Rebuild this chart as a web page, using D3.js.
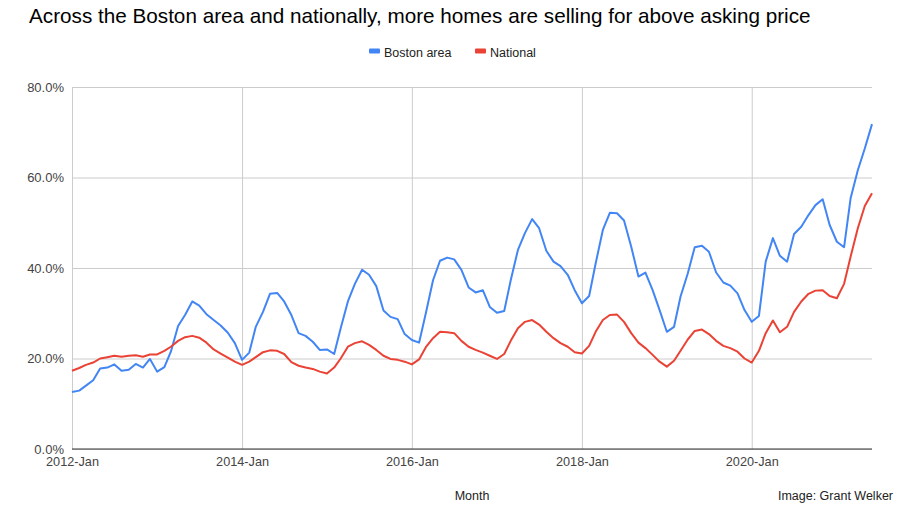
<!DOCTYPE html>
<html>
<head>
<meta charset="utf-8">
<script src="https://cdn.jsdelivr.net/npm/d3@7"></script>
<style>
  body { margin: 0; background: #fff; }
  svg { font-family: "Liberation Sans", Arial, sans-serif; }
</style>
</head>
<body>
<div id="chart"></div>
<script>
/* CONSTANTS AND GLOBALS */
const width = 900,
  height = 506,
  margin = { top: 87, bottom: 57, left: 72, right: 28 };

// monthly series, 2012-Jan .. 2021-Jun (percent of homes sold above asking)
const startMonth = new Date(2012, 0, 1);
const boston = [
  12.6, 12.9, 14.0, 15.2, 17.8, 18.0, 18.7, 17.3, 17.5, 18.8, 18.0, 19.9, 17.1, 18.1,
  21.5, 27.2, 29.6, 32.6, 31.7, 29.8, 28.5, 27.3, 25.7, 23.4, 19.7, 21.3, 27.0, 30.3,
  34.3, 34.5, 32.6, 29.6, 25.6, 25.0, 23.7, 21.9, 22.0, 21.0, 26.7, 32.6, 36.5, 39.6,
  38.5, 36.0, 30.6, 29.2, 28.7, 25.4, 24.1, 23.5, 30.0, 37.3, 41.6, 42.3, 41.9, 39.6,
  35.7, 34.6, 35.1, 31.4, 30.1, 30.5, 37.3, 44.0, 47.7, 50.8, 48.8, 43.8, 41.4, 40.4,
  38.5, 35.1, 32.2, 33.8, 41.0, 48.4, 52.2, 52.1, 50.5, 44.7, 38.1, 39.0, 35.1, 30.7,
  25.9, 27.0, 33.7, 38.8, 44.6, 44.9, 43.6, 39.0, 36.8, 36.1, 34.4, 30.7, 28.1, 29.4,
  41.4, 46.6, 42.7, 41.4, 47.5, 49.1, 51.7, 53.9, 55.2, 49.5, 45.8, 44.6, 55.4, 61.6, 66.4, 71.8
];
const national = [
  17.3, 17.9, 18.6, 19.1, 20.0, 20.3, 20.6, 20.4, 20.6, 20.7, 20.4, 20.9, 20.9, 21.7,
  22.6, 23.9, 24.7, 25.0, 24.6, 23.5, 22.0, 21.1, 20.2, 19.3, 18.6, 19.3, 20.3, 21.4,
  21.8, 21.7, 21.0, 19.2, 18.4, 18.0, 17.7, 17.1, 16.7, 18.0, 20.0, 22.6, 23.4, 23.8,
  23.0, 21.9, 20.6, 19.9, 19.7, 19.3, 18.7, 19.8, 22.5, 24.5, 25.9, 25.8, 25.6, 23.9,
  22.6, 21.9, 21.3, 20.6, 19.9, 21.0, 23.9, 26.7, 28.1, 28.5, 27.5, 25.9, 24.5, 23.4,
  22.6, 21.4, 21.1, 22.8, 25.9, 28.5, 29.6, 29.7, 28.1, 25.6, 23.5, 22.3, 20.8, 19.3,
  18.2, 19.5, 21.7, 24.2, 26.1, 26.4, 25.4, 23.9, 22.8, 22.3, 21.5, 20.0, 19.1, 21.7,
  25.6, 28.4, 25.8, 27.0, 30.3, 32.6, 34.3, 35.0, 35.1, 33.8, 33.3, 36.5, 42.5, 48.8, 53.7, 56.5
];
const seriesNames = ["Boston area", "National"];
const seriesColors = ["#4285f4", "#ea4335"];
const yTicks = [0, 20, 40, 60, 80];
const xTickLabels = ["2012-Jan", "2014-Jan", "2016-Jan", "2018-Jan", "2020-Jan"];

const months = d3.timeMonth.range(startMonth, d3.timeMonth.offset(startMonth, boston.length));
const xTickDates = xTickLabels.map(d3.timeParse("%Y-%b"));

/* SCALES */
const xScale = d3.scaleTime()
  .domain(d3.extent(months))
  .range([margin.left, width - margin.right]);

const yScale = d3.scaleLinear()
  .domain([0, 80])
  .range([height - margin.bottom, margin.top]);

/* SVG */
const svg = d3.select("#chart")
  .append("svg")
  .attr("width", width)
  .attr("height", height);

// title
svg.append("text")
  .attr("x", 29)
  .attr("y", 23)
  .attr("font-size", 20.7)
  .attr("fill", "#000")
  .text("Across the Boston area and nationally, more homes are selling for above asking price");

// legend
const legend = svg.append("g").attr("class", "legend");
const legendX = [369, 475];
seriesNames.forEach((name, i) => {
  const g = legend.append("g").attr("transform", `translate(${legendX[i]}, 52)`);
  g.append("rect")
    .attr("x", 0).attr("y", -3.5)
    .attr("width", 11).attr("height", 5)
    .attr("rx", 1)
    .attr("fill", seriesColors[i]);
  g.append("text")
    .attr("x", 15).attr("y", 4.5)
    .attr("font-size", 12.5)
    .attr("fill", "#222")
    .text(name);
});

// horizontal gridlines + y labels
const yAxis = d3.axisLeft(yScale)
  .tickValues(yTicks)
  .tickSize(-(width - margin.left - margin.right))
  .tickFormat(d => d.toFixed(1) + "%");

svg.append("g")
  .attr("class", "yAxis")
  .attr("transform", `translate(${margin.left}, 0)`)
  .call(yAxis)
  .call(g => g.select(".domain").remove())
  .call(g => g.selectAll(".tick line").attr("stroke", "#cccccc"))
  .call(g => g.selectAll(".tick text")
    .attr("x", -8)
    .attr("font-size", 13)
    .attr("font-family", "Liberation Sans, Arial, sans-serif")
    .attr("fill", "#444"));

// vertical gridlines + x labels
const xAxis = d3.axisBottom(xScale)
  .tickValues(xTickDates)
  .tickSize(-(height - margin.top - margin.bottom))
  .tickFormat((d, i) => xTickLabels[i]);

svg.append("g")
  .attr("class", "xAxis")
  .attr("transform", `translate(0, ${height - margin.bottom})`)
  .call(xAxis)
  .call(g => g.select(".domain").remove())
  .call(g => g.selectAll(".tick line").attr("stroke", "#cccccc"))
  .call(g => g.selectAll(".tick text")
    .attr("y", 8)
    .attr("font-size", 12.7)
    .attr("font-family", "Liberation Sans, Arial, sans-serif")
    .attr("fill", "#444"));

// baseline at 0
svg.append("line")
  .attr("x1", margin.left).attr("x2", width - margin.right)
  .attr("y1", yScale(0)).attr("y2", yScale(0))
  .attr("stroke", "#333");

// lines
const lineGen = d3.line()
  .x((d, i) => xScale(months[i]))
  .y(d => yScale(d));

svg.selectAll("path.series")
  .data([boston, national])
  .join("path")
  .attr("class", "series")
  .attr("fill", "none")
  .attr("stroke", (d, i) => seriesColors[i])
  .attr("stroke-width", 2)
  .attr("stroke-linejoin", "round")
  .attr("d", lineGen);

// axis title + credit
svg.append("text")
  .attr("x", 472)
  .attr("y", 500)
  .attr("text-anchor", "middle")
  .attr("font-size", 12.5)
  .attr("fill", "#222")
  .text("Month");

svg.append("text")
  .attr("x", 893)
  .attr("y", 500)
  .attr("text-anchor", "end")
  .attr("font-size", 12.5)
  .attr("fill", "#222")
  .text("Image: Grant Welker");
</script>
</body>
</html>
